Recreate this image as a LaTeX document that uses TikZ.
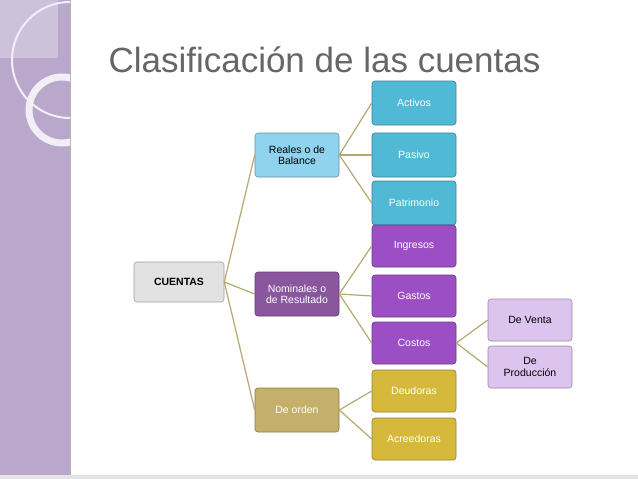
\documentclass[tikz,border=0pt]{standalone}
\usepackage{fontspec}
\setmainfont{Liberation Sans}
\begin{document}
\begin{tikzpicture}[x=1pt,y=-1pt,
  box/.style={draw=#1!70!black,line width=0.6pt,fill=#1,rounded corners=3pt,minimum width=84pt,minimum height=44pt,align=center,font=\fontsize{10.5}{11.5}\selectfont,inner sep=1pt},
  wbox/.style={box=#1,text=white},
  con/.style={draw=conc,line width=1.2pt}]
\definecolor{band}{HTML}{B9A8CC}
\definecolor{blu}{HTML}{8FD3EE}
\definecolor{teal}{HTML}{4FB9D6}
\definecolor{nom}{HTML}{8A579E}
\definecolor{pur}{HTML}{9C4FC4}
\definecolor{ord}{HTML}{C4B06A}
\definecolor{gold}{HTML}{D6B93A}
\definecolor{lil}{HTML}{DCC4EF}
\definecolor{cue}{HTML}{E2E2E2}
\definecolor{conc}{HTML}{B8A870}
\useasboundingbox (0,0) rectangle (638,479);
\fill[white] (0,0) rectangle (638,479);
\fill[band] (0,0) rectangle (70,479);
\draw[gray!60,line width=0.6pt] (70,0) -- (70,479);
\begin{scope}
\clip (0,0) rectangle (70,479);
\fill[white,opacity=0.3] (0,0) rectangle (58,58);
\draw[white!80!band,line width=2pt] (70,60) circle (58);
\draw[white!80!band,line width=7pt] (62,110) circle (33);
\end{scope}
\fill[blue!10!gray!20] (0,475) rectangle (638,479);
\node[anchor=west,text=black!60,font=\fontsize{35}{40}\selectfont] (title) at (105,60) {Clasificación de las cuentas};
\node[box=cue,minimum width=90pt,minimum height=40pt,font=\bfseries\fontsize{10.5}{11.5}\selectfont] (c) at (179,282) {CUENTAS};
\node[box=blu] (r) at (297,155) {Reales o de\\Balance};
\node[wbox=nom] (n) at (297,294) {Nominales o\\de Resultado};
\node[wbox=ord] (o) at (297,410) {De orden};
\node[wbox=teal] (a1) at (414,103) {Activos};
\node[wbox=teal] (a2) at (414,155) {Pasivo};
\node[wbox=teal] (a3) at (414,203) {Patrimonio};
\node[wbox=pur,minimum height=42pt] (b1) at (414,246) {Ingresos};
\node[wbox=pur,minimum height=42pt] (b2) at (414,296) {Gastos};
\node[wbox=pur,minimum height=42pt] (b3) at (414,343) {Costos};
\node[wbox=gold,minimum height=42pt] (d1) at (414,391) {Deudoras};
\node[wbox=gold,minimum height=42pt] (d2) at (414,439) {Acreedoras};
\node[box=lil,minimum height=42pt] (e1) at (530,320) {De Venta};
\node[box=lil,minimum height=42pt] (e2) at (530,367) {De\\Producción};
\foreach \p/\q in {c/r,c/n,c/o,r/a1,r/a2,r/a3,n/b1,n/b2,n/b3,o/d1,o/d2,b3/e1,b3/e2}
  \draw[con] (\p.east) -- (\q.west);
\end{tikzpicture}
\end{document}
